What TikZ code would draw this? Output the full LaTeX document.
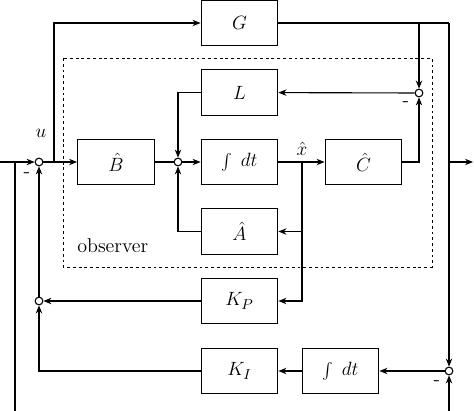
\documentclass[tikz,border=0pt]{standalone}
\usetikzlibrary{arrows.meta}
\begin{document}
\begin{tikzpicture}[x=0.625pt,y=-0.625pt,
  font=\fontsize{12.5}{15}\selectfont,
  blk/.style={draw, line width=0.7pt, minimum width=48pt, minimum height=28.5pt, inner sep=0pt},
  sumj/.style={circle, draw, fill=white, line width=0.7pt, minimum size=4.8pt, inner sep=0pt},
  con/.style={line width=0.7pt},
  arr/.style={con, -{Stealth[length=5pt,width=4pt]}},
  obs/.style={draw, dash pattern=on 1.8pt off 1.8pt, line width=0.6pt}]
\useasboundingbox (0,0) rectangle (474,410);
% observer frame
\draw[obs] (63,58) rectangle (432,267);
\node[anchor=base west, inner sep=0pt] (obslbl) at (77,252) {observer};
% blocks
\node[blk] (G)  at (239.5,23)  {$G$};
\node[blk] (L)  at (239.5,92.5) {$L$};
\node[blk] (B)  at (116,162)   {$\hat{B}$};
\node[blk] (I1) at (239.5,162) {$\int\;dt$};
\node[blk] (C)  at (363.5,162) {$\hat{C}$};
\node[blk] (A)  at (239.5,231.5) {$\hat{A}$};
\node[blk] (KP) at (239.5,301) {$K_P$};
\node[blk] (KI) at (239.5,371) {$K_I$};
\node[blk] (I2) at (340.5,371) {$\int\;dt$};
% junctions
\node[sumj] (s1) at (39,162) {};
\node[sumj] (s2) at (178,162) {};
\node[sumj] (s3) at (419,93) {};
\node[sumj] (s5) at (39,301) {};
\node[sumj] (s4) at (449,371) {};
% helper coordinates
\coordinate (in) at (0,162);
\coordinate (c15) at (15,162);
\coordinate (b15) at (15,411);
\coordinate (c54) at (54,162);
\coordinate (xb) at (302,162);
\coordinate (g419) at (419,23);
\coordinate (g449) at (449,23);
\coordinate (m449) at (449,162);
\coordinate (out) at (473,162);
\coordinate (b449) at (449,411);
% labels
\node (ulbl) at (41,133) {$u$};
\node (m1) at (27,175) {-};
\node (xlbl) at (302,149) {$\hat{x}$};
\node (m2) at (406,104) {-};
\node (m3) at (437,383) {-};
% connectors
\draw[arr] (in) -- (s1);
\draw[con] (c15) -- (b15);
\draw[arr] (s1) -- (B);
\draw[arr] (c54) |- (G);
\draw[con] (B) -- (s2);
\draw[arr] (s2) -- (I1);
\draw[arr] (L.west) -| (s2);
\draw[arr] (A.west) -| (s2);
\draw[arr] (I1) -- (C);
\draw[arr] (xb) |- (A.east);
\draw[arr] (xb) |- (KP.east);
\draw[arr] (C.east) -| (s3);
\draw[arr] (s3) -- (L);
\draw[con] (G.east) -- (g449);
\draw[arr] (g419) -- (s3);
\draw[arr] (g449) -- (s4);
\draw[arr] (m449) -- (out);
\draw[arr] (b449) -- (s4);
\draw[arr] (s4) -- (I2);
\draw[arr] (I2) -- (KI);
\draw[arr] (KI.west) -| (s5);
\draw[arr] (KP) -- (s5);
\draw[arr] (s5) -- (s1);
\end{tikzpicture}
\end{document}
